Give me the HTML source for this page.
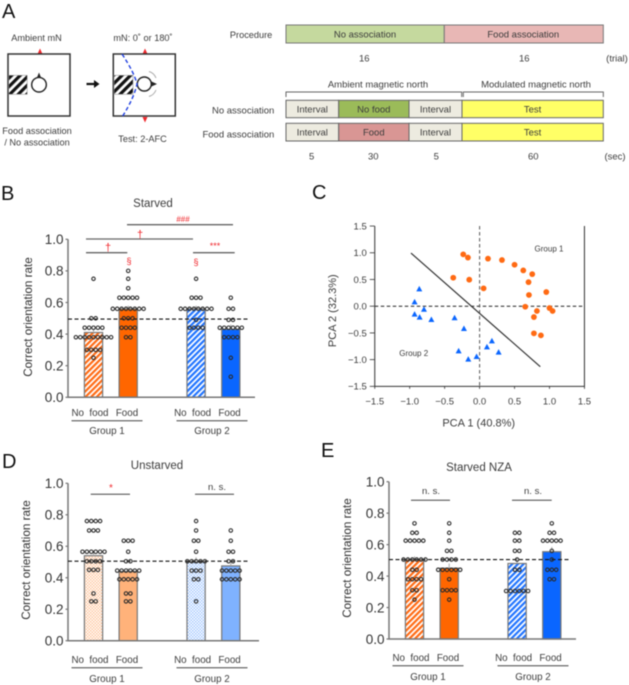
<!DOCTYPE html>
<html lang="en">
<head>
<meta charset="utf-8">
<title>Magnetic orientation figure</title>
<style>
html,body{margin:0;padding:0;background:#fff;}
svg{display:block;filter:blur(0.4px);}
text{font-family:"Liberation Sans",sans-serif;fill:#3c3c3c;}
.l{font-size:9.5px;}
.a{font-size:9.2px;}
.c{text-anchor:middle;}
.r{text-anchor:end;}
.p{font-size:20px;fill:#111;}
.t{font-size:11.5px;text-anchor:middle;}
.red{fill:#f0282d;text-anchor:middle;}
</style>
</head>
<body>
<svg id="fig" xmlns="http://www.w3.org/2000/svg" width="629" height="685" viewBox="0 0 629 685">
<defs>
<pattern id="hatchBlack" patternUnits="userSpaceOnUse" width="6" height="6" patternTransform="rotate(45)"><rect width="6" height="6" fill="#fff"/><rect width="3.2" height="6" fill="#111"/></pattern>
<pattern id="hatchOrange" patternUnits="userSpaceOnUse" width="4" height="4" patternTransform="rotate(45)"><rect width="4" height="4" fill="#fff"/><rect width="2.2" height="4" fill="#ff6a13"/></pattern>
<pattern id="hatchBlue" patternUnits="userSpaceOnUse" width="4" height="4" patternTransform="rotate(45)"><rect width="4" height="4" fill="#fff"/><rect width="2.2" height="4" fill="#1f73ff"/></pattern>
<pattern id="dotOrange" patternUnits="userSpaceOnUse" width="3" height="3"><rect width="3" height="3" fill="#fff"/><rect width="1.5" height="1.5" fill="#ffc9a3"/><rect x="1.5" y="1.5" width="1.5" height="1.5" fill="#ffc9a3"/></pattern>
<pattern id="dotBlue" patternUnits="userSpaceOnUse" width="3" height="3"><rect width="3" height="3" fill="#fff"/><rect width="1.5" height="1.5" fill="#a9cbff"/><rect x="1.5" y="1.5" width="1.5" height="1.5" fill="#a9cbff"/></pattern>
</defs>

<!-- Panel letters -->
<text class="p" x="2" y="18">A</text>
<text class="p" x="1" y="200">B</text>
<text class="p" x="312" y="199">C</text>
<text class="p" x="2" y="468">D</text>
<text class="p" x="321" y="457">E</text>

<!-- Panel A: arena schematic -->
<g>
<text class="a c" x="36.5" y="41">Ambient mN</text>
<polygon points="40,48.5 37.5,54 42.5,54" fill="#f0282d"/>
<rect x="8" y="54" width="62" height="62" fill="#fff" stroke="#333" stroke-width="1.5"/>
<rect x="8.7" y="75.3" width="18.5" height="19" fill="url(#hatchBlack)" stroke="#999" stroke-width=".6"/>
<circle cx="39" cy="84.7" r="7.3" fill="#fff" stroke="#222" stroke-width="1.4"/>
<polygon points="39,72.5 37,77.5 41,77.5" fill="#222"/>
<text class="a c" x="37" y="134">Food association</text>
<text class="a c" x="37" y="145.5">/ No association</text>
<line x1="86.5" y1="84" x2="95" y2="84" stroke="#111" stroke-width="2.2"/>
<polygon points="99.5,84 94,80 94,88" fill="#111"/>
<text class="a c" x="143" y="41">mN: 0˚ or 180˚</text>
<polygon points="145,48.5 142.500,54 147.500,54" fill="#f0282d"/>
<rect x="113.300" y="54" width="62" height="62" fill="#fff" stroke="#333" stroke-width="1.5"/>
<rect x="114" y="75.3" width="19" height="19" fill="url(#hatchBlack)" stroke="#999" stroke-width=".6"/>
<circle cx="144.300" cy="84" r="7" fill="#fff" stroke="#222" stroke-width="1.4"/>
<polygon points="157,84 151.500,81.500 151.500,86.500" fill="#222"/>
<path d="M122,54 Q134,72 137,84 Q134,98 122.700,116" fill="none" stroke="#1f3fe0" stroke-width="1.4" stroke-dasharray="4 2.500"/>
<path d="M149,71.500 Q154,73 156,78 M149,96.500 Q154,95 156,90" fill="none" stroke="#aaa" stroke-width="1"/>
<polygon points="145,122.500 142.500,117 147.500,117" fill="#f0282d"/>
<text class="a c" x="142.500" y="142">Test: 2-AFC</text>
</g>

<!-- Panel A: timeline -->
<g stroke-width="0">
<text class="a r" x="272.300" y="38">Procedure</text>
<rect x="286" y="25" width="158.300" height="18" fill="#c5d99e" stroke="#777" stroke-width="1"/>
<rect x="444.300" y="25" width="159" height="18" fill="#e8b7b5" stroke="#777" stroke-width="1"/>
<text class="l c" x="365" y="37.500">No association</text>
<text class="l c" x="523.300" y="37.500">Food association</text>
<text class="l c" x="364.300" y="61.500">16</text>
<text class="l c" x="524.300" y="61.500">16</text>
<text class="l c" x="617" y="61.500">(trial)</text>
<text class="l c" x="378" y="87.500">Ambient magnetic north</text>
<text class="l c" x="536" y="87.500">Modulated magnetic north</text>
<path d="M286,97 V92 H461.700 V97 M463.300,97 V92 H603.300 V97" fill="none" stroke="#666" stroke-width="1"/>
<text class="l r" x="274.300" y="113.500">No association</text>
<rect x="286" y="100.300" width="52.700" height="17.400" fill="#edebe0" stroke="#666" stroke-width="1"/>
<rect x="338.700" y="100.300" width="70.300" height="17.400" fill="#9bbb59" stroke="#666" stroke-width="1"/>
<rect x="409" y="100.300" width="53" height="17.400" fill="#edebe0" stroke="#666" stroke-width="1"/>
<rect x="462" y="100.300" width="141.300" height="17.400" fill="#ffff66" stroke="#666" stroke-width="1"/>
<text class="l c" x="312.300" y="112.500">Interval</text>
<text class="l c" x="373.800" y="112.500">No food</text>
<text class="l c" x="435.500" y="112.500">Interval</text>
<text class="l c" x="532.600" y="112.500">Test</text>
<text class="l r" x="274.300" y="137.500">Food association</text>
<rect x="286" y="123.300" width="52.700" height="17.700" fill="#edebe0" stroke="#666" stroke-width="1"/>
<rect x="338.700" y="123.300" width="70.300" height="17.700" fill="#d99694" stroke="#666" stroke-width="1"/>
<rect x="409" y="123.300" width="53" height="17.700" fill="#edebe0" stroke="#666" stroke-width="1"/>
<rect x="462" y="123.300" width="141.300" height="17.700" fill="#ffff66" stroke="#666" stroke-width="1"/>
<text class="l c" x="312.300" y="135.700">Interval</text>
<text class="l c" x="373.800" y="135.700">Food</text>
<text class="l c" x="435.500" y="135.700">Interval</text>
<text class="l c" x="532.600" y="135.700">Test</text>
<text class="l c" x="311.700" y="159.500">5</text>
<text class="l c" x="373.300" y="159.500">30</text>
<text class="l c" x="436.300" y="159.500">5</text>
<text class="l c" x="533.300" y="159.500">60</text>
<text class="l c" x="615" y="159.500">(sec)</text>
</g>

<!-- Static titles and significance annotations -->
<text class="t" x="153" y="207">Starved</text>
<text class="t" x="157" y="469">Unstarved</text>
<text class="t" x="479" y="471">Starved NZA</text>

<g stroke="#666" stroke-width="1.3">
<line x1="127" y1="224.700" x2="233" y2="224.700"/>
<line x1="86" y1="239" x2="193" y2="239"/>
<line x1="86" y1="252.700" x2="127.300" y2="252.700"/>
<line x1="193" y1="252.700" x2="234.700" y2="252.700"/>
</g>
<g>
<text class="red" x="183" y="222" font-size="8">###</text>
<text class="red" x="140" y="238" font-size="11">†</text>
<text class="red" x="108" y="251" font-size="11">†</text>
<text class="red" x="215" y="249" font-size="9">***</text>
<text class="red" x="129" y="264" font-size="9">§</text>
<text class="red" x="196" y="265" font-size="9">§</text>
</g>

<g>
<line x1="90.700" y1="494.300" x2="130" y2="494.300" stroke="#444"/>
<text class="red" x="111" y="491" font-size="10">*</text>
<line x1="195" y1="494.300" x2="234" y2="494.300" stroke="#444"/>
<text class="l c" x="217" y="490">n. s.</text>
</g>
<g>
<line x1="411" y1="500.300" x2="450" y2="500.300" stroke="#444"/>
<text class="l c" x="431" y="494">n. s.</text>
<line x1="512" y1="500.300" x2="551.700" y2="500.300" stroke="#444"/>
<text class="l c" x="533" y="494">n. s.</text>
</g>

<!-- Panel C static labels -->
<text class="c" x="478.700" y="426.500" font-size="11">PCA 1 (40.8%)</text>
<text class="c" transform="translate(336,310.700) rotate(-90)" font-size="11">PCA 2 (32.3%)</text>
<text class="c" x="549" y="251.500" font-size="8">Group 1</text>
<text class="c" x="413.700" y="356" font-size="8">Group 2</text>

<g id="chart-layer"></g>
</svg>

<script>
// Shared labels
const barCategories = ["No  food", "Food", "No  food", "Food"];
const groupLabels = ["Group 1", "Group 2"];
const barTickLabels = ["0.0", "0.2", "0.4", "0.6", "0.8", "1.0"];
const barTickValues = [0, 0.2, 0.4, 0.6, 0.8, 1.0];

// Panel B: Starved
const panelBMeans = [0.41, 0.56, 0.56, 0.43];
const panelBErrors = [0.02, 0.02, 0.02, 0.03];
const panelBChance = [0.495];
const panelBNoFood1 = [0.75, 0.5, 0.5, 0.44, 0.44, 0.44, 0.44, 0.44, 0.38, 0.38, 0.38, 0.38, 0.38, 0.38, 0.38, 0.38, 0.38, 0.3, 0.3, 0.3, 0.3, 0.25];
const panelBFood1 = [0.8, 0.75, 0.69, 0.63, 0.63, 0.63, 0.63, 0.63, 0.56, 0.56, 0.56, 0.56, 0.56, 0.56, 0.56, 0.56, 0.5, 0.5, 0.5, 0.44, 0.44, 0.44, 0.44, 0.38, 0.38];
const panelBNoFood2 = [0.75, 0.63, 0.63, 0.63, 0.56, 0.56, 0.56, 0.56, 0.56, 0.56, 0.56, 0.56, 0.49, 0.44, 0.44, 0.44, 0.44];
const panelBFood2 = [0.63, 0.56, 0.56, 0.49, 0.49, 0.44, 0.44, 0.44, 0.44, 0.44, 0.44, 0.38, 0.38, 0.38, 0.38, 0.25, 0.13];

// Panel D: Unstarved
const panelDMeans = [0.54, 0.44, 0.5, 0.475];
const panelDErrors = [0.03, 0.02, 0.03, 0.02];
const panelDChance = [0.505];
const panelDNoFood1 = [0.76, 0.76, 0.76, 0.76, 0.7, 0.7, 0.7, 0.565, 0.565, 0.565, 0.565, 0.565, 0.565, 0.505, 0.505, 0.505, 0.505, 0.45, 0.45, 0.45, 0.3, 0.25, 0.25];
const panelDFood1 = [0.635, 0.635, 0.635, 0.565, 0.505, 0.505, 0.445, 0.445, 0.445, 0.445, 0.445, 0.445, 0.39, 0.39, 0.39, 0.39, 0.39, 0.3, 0.3, 0.25, 0.25];
const panelDNoFood2 = [0.76, 0.7, 0.635, 0.635, 0.565, 0.505, 0.505, 0.505, 0.505, 0.505, 0.445, 0.445, 0.445, 0.39, 0.39, 0.25];
const panelDFood2 = [0.7, 0.635, 0.565, 0.565, 0.505, 0.505, 0.445, 0.445, 0.445, 0.445, 0.445, 0.39, 0.39, 0.39, 0.39, 0.39];

// Panel E: Starved NZA
const panelEMeans = [0.505, 0.45, 0.48, 0.555];
const panelEErrors = [0.02, 0.03, 0.03, 0.03];
const panelEChance = [0.505];
const panelENoFood1 = [0.735, 0.675, 0.675, 0.625, 0.625, 0.625, 0.625, 0.625, 0.505, 0.505, 0.505, 0.505, 0.505, 0.505, 0.44, 0.44, 0.38, 0.38, 0.38, 0.38, 0.31, 0.31, 0.25];
const panelEFood1 = [0.735, 0.675, 0.625, 0.56, 0.56, 0.505, 0.505, 0.505, 0.505, 0.44, 0.44, 0.44, 0.44, 0.44, 0.44, 0.38, 0.31, 0.31, 0.31, 0.31, 0.25];
const panelENoFood2 = [0.675, 0.675, 0.625, 0.625, 0.56, 0.56, 0.505, 0.44, 0.44, 0.305, 0.305, 0.305, 0.305, 0.305, 0.305];
const panelEFood2 = [0.735, 0.675, 0.675, 0.625, 0.625, 0.625, 0.625, 0.625, 0.56, 0.505, 0.44, 0.44, 0.44, 0.38, 0.38];

// Panel C: PCA scatter
const pcaTickValues = [-1.5, -1.0, -0.5, 0.0, 0.5, 1.0, 1.5];
const pcaTickLabels = ["−1.5", "−1.0", "−0.5", "0.0", "0.5", "1.0", "1.5"];
const group1X = [-0.234, -0.167, 0.12, 0.32, 0.5, 0.625, 0.753, 0.7, 0.954, 0.706, 0.057, -0.148, -0.377, 0.653, 0.82, 1.0, 1.044, 0.777, 0.777, 0.877];
const group1Y = [0.97, 0.91, 0.89, 0.864, 0.776, 0.67, 0.6, 0.45, 0.265, 0.21, 0.334, 0.496, 0.533, -0.01, -0.09, -0.034, -0.09, -0.203, -0.508, -0.546];
const group2X = [-0.863, -0.93, -0.796, -0.93, -0.858, -0.69, -0.358, -0.224, -0.3, -0.162, -0.043, 0.105, 0.176, 0.272];
const group2Y = [0.32, 0.078, -0.06, -0.153, -0.209, -0.253, -0.221, -0.421, -0.84, -0.995, -0.945, -0.764, -0.652, -0.864];
const separatorX = [-0.982, 0.868];
const separatorY = [0.995, -1.132];

const NS = "http://www.w3.org/2000/svg";
const layer = document.getElementById("chart-layer");

function mk(tag, attrs, parent) {
  const el = document.createElementNS(NS, tag);
  for (const k in attrs) el.setAttribute(k, attrs[k]);
  (parent || layer).appendChild(el);
  return el;
}

function drawBarPanel(cfg) {
  const g = mk("g", {});
  
  
  const yScale = v => cfg.y0 + (cfg.y1 - cfg.y0) * v;
  const xCenter = i => cfg.left + 34.7 * (i % 2) + 102.6 * Math.floor(i / 2);
  const barW = 18.2;

  cfg.means.forEach((m, i) => {
    const bar = mk("rect", {
      x: xCenter(i) - barW / 2, y: yScale(m), width: barW, height: cfg.y0 - yScale(m),
      fill: cfg.fills[i], stroke: "#777", "stroke-width": 1.2
    }, g);
    
    
    const err = mk("line", {
      x1: xCenter(i), x2: xCenter(i), y1: yScale(m), y2: yScale(m + cfg.errors[i]),
      stroke: "#aaa", "stroke-width": 1
    }, g);
    
    
  });

  const axis = mk("path", {
    d: "M" + cfg.axisLeft + "," + yScale(1) + " V" + cfg.y0 + " H" + cfg.axisRight,
    fill: "none", stroke: "#777", "stroke-width": 1.5
  }, g);
  
  

  barTickValues.forEach((v, i) => {
    const t = mk("line", {
      x1: cfg.axisLeft - 2.5, x2: cfg.axisLeft, y1: yScale(v), y2: yScale(v), stroke: "#777", "stroke-width": 1.2
    }, g);
    
    
    const lab = mk("text", {
      x: cfg.axisLeft - 4.5, y: yScale(v) + 4.8, "text-anchor": "end", "font-size": 13.5, style: "fill:#333"
    }, g);
    
    
    lab.textContent = barTickLabels[i];
  });

  const title = mk("text", {
    transform: "translate(" + cfg.yTitleX + "," + cfg.yTitleY + ") rotate(-90)",
    "text-anchor": "middle", "font-size": 11.7, style: "fill:#333"
  }, g);
  
  
  title.textContent = "Correct orientation rate";

  const chance = mk("line", {
    x1: cfg.axisLeft, x2: cfg.dashEnd, y1: yScale(cfg.chance[0]), y2: yScale(cfg.chance[0]),
    stroke: "#111", "stroke-width": 1.1, "stroke-dasharray": "4 2.5"
  }, g);
  
  

  cfg.dots.forEach((vals, i) => {
    const counts = {};
    vals.forEach(v => { counts[v] = (counts[v] || 0) + 1; });
    const seen = {};
    vals.forEach(v => {
      const k = seen[v] || 0;
      seen[v] = k + 1;
      const cx = xCenter(i) + (k - (counts[v] - 1) / 2) * 4.4;
      const dot = mk("circle", {
        cx: cx, cy: yScale(v), r: 1.75, fill: "none", stroke: "#2a2a2a", "stroke-width": 1.05
      }, g);
      
      
    });
  });

  barCategories.forEach((c, i) => {
    const lab = mk("text", {
      x: cfg.left + (i % 2 ? 33.5 : -3.5) + 102.6 * Math.floor(i / 2), y: cfg.labelY,
      "text-anchor": "middle", "font-size": 9.8, "xml:space": "preserve", style: "white-space:pre"
    }, g);
    
    
    lab.textContent = c;
  });
  groupLabels.forEach((c, i) => {
    const gx = cfg.left + 13.5 + 105 * i;
    const ul = mk("line", {
      x1: gx - 35.5, x2: gx + 35.5, y1: cfg.lineY, y2: cfg.lineY, stroke: "#444", "stroke-width": 1
    }, g);
    
    
    const lab = mk("text", {
      x: gx, y: cfg.groupY, "text-anchor": "middle", "font-size": 9.8
    }, g);
    
    
    lab.textContent = c;
  });
}

drawBarPanel({
  name: "panel-b-starved", means: panelBMeans, errors: panelBErrors, chance: panelBChance,
  dots: [panelBNoFood1, panelBFood1, panelBNoFood2, panelBFood2],
  fills: ["url(#hatchOrange)", "#ff6600", "url(#hatchBlue)", "#0a66ff"],
  y0: 397.3, y1: 239.3, left: 93.5, axisLeft: 68, axisRight: 255, dashEnd: 249,
  yTitleX: 32, yTitleY: 317, labelY: 416, lineY: 420.7, groupY: 434
});
drawBarPanel({
  name: "panel-d-unstarved", means: panelDMeans, errors: panelDErrors, chance: panelDChance,
  dots: [panelDNoFood1, panelDFood1, panelDNoFood2, panelDFood2],
  fills: ["url(#dotOrange)", "#ffb27a", "url(#dotBlue)", "#7fb2ff"],
  y0: 640.7, y1: 483.3, left: 93.5, axisLeft: 68, axisRight: 259, dashEnd: 250,
  yTitleX: 30, yTitleY: 560, labelY: 663, lineY: 667.7, groupY: 682
});
drawBarPanel({
  name: "panel-e-starved-nza", means: panelEMeans, errors: panelEErrors, chance: panelEChance,
  dots: [panelENoFood1, panelEFood1, panelENoFood2, panelEFood2],
  fills: ["url(#hatchOrange)", "#ff6600", "url(#hatchBlue)", "#0a66ff"],
  y0: 639, y1: 481.7, left: 414.5, axisLeft: 389, axisRight: 576, dashEnd: 570,
  yTitleX: 351, yTitleY: 558, labelY: 661, lineY: 665.7, groupY: 680
});

(function drawPca() {
  const g = mk("g", {});
  
  
  const xS = v => 479.6 + v * 69.9;
  const yS = v => 306.2 - v * 53.43;

  const zeroH = mk("line", { x1: xS(-1.5), x2: xS(1.5), y1: yS(0), y2: yS(0), stroke: "#222", "stroke-width": 1, "stroke-dasharray": "3.5 2.5" }, g);
  
  
  const zeroV = mk("line", { x1: xS(0), x2: xS(0), y1: yS(1.5), y2: yS(-1.5), stroke: "#555", "stroke-width": 1, "stroke-dasharray": "3.5 2.5" }, g);
  
  

  const frame = mk("path", {
    d: "M" + xS(-1.5) + "," + yS(1.5) + " V" + yS(-1.5) + " H" + xS(1.5) + " V" + yS(1.5),
    fill: "none", stroke: "#333", "stroke-width": 1
  }, g);
  
  

  pcaTickValues.forEach((v, i) => {
    const ty = mk("line", { x1: xS(-1.5) - 5, x2: xS(-1.5), y1: yS(v), y2: yS(v), stroke: "#333", "stroke-width": 0.8 }, g);
    
    
    const ly = mk("text", { x: xS(-1.5) - 8, y: yS(v) + 3.4, "text-anchor": "end", "font-size": 9.5 }, g);
    
    
    ly.textContent = pcaTickLabels[i];
    const tx = mk("line", { x1: xS(v), x2: xS(v), y1: yS(-1.5), y2: yS(-1.5) + 2.5, stroke: "#333", "stroke-width": 0.8 }, g);
    
    
    const lx = mk("text", { x: xS(v), y: yS(-1.5) + 18, "text-anchor": "middle", "font-size": 9.5 }, g);
    
    
    lx.textContent = pcaTickLabels[i];
  });

  const sep = mk("line", {
    x1: xS(separatorX[0]), y1: yS(separatorY[0]), x2: xS(separatorX[1]), y2: yS(separatorY[1]),
    stroke: "#333", "stroke-width": 1.2
  }, g);
  
  

  group1X.forEach((x, i) => {
    const p = mk("circle", { cx: xS(x), cy: yS(group1Y[i]), r: 2.9, fill: "#ff6a13" }, g);
    
    
  });
  group2X.forEach((x, i) => {
    const cx = xS(x), cy = yS(group2Y[i]);
    const p = mk("polygon", {
      points: cx + "," + (cy - 3.2) + " " + (cx - 3) + "," + (cy + 2.3) + " " + (cx + 3) + "," + (cy + 2.3),
      fill: "#0a66ff"
    }, g);
    
    
  });
})();
</script>
</body>
</html>
